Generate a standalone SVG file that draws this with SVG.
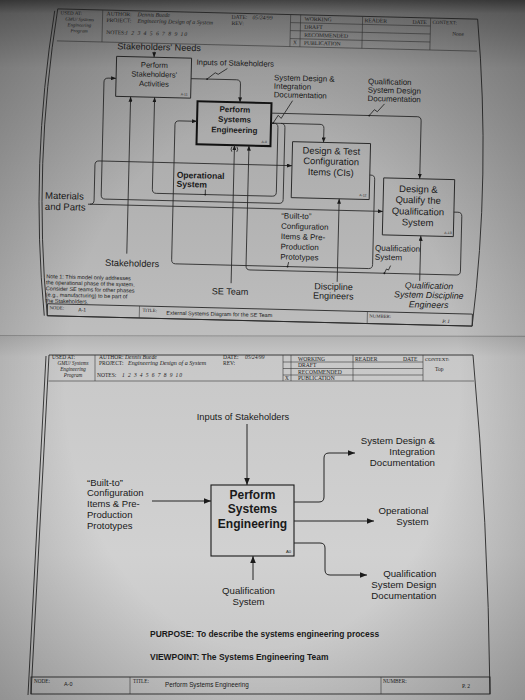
<svg xmlns="http://www.w3.org/2000/svg" width="525" height="700" viewBox="0 0 525 700">
<defs>
<linearGradient id="bg1" x1="0" y1="0" x2="0" y2="1">
<stop offset="0" stop-color="#4e4e4e"/>
<stop offset="0.04" stop-color="#7e7e7e"/>
<stop offset="0.2" stop-color="#a6a6a6"/>
<stop offset="1" stop-color="#bebebe"/>
</linearGradient>
<linearGradient id="bg2" x1="0" y1="0" x2="0" y2="1">
<stop offset="0" stop-color="#b2b2b2"/>
<stop offset="0.06" stop-color="#c8c8c8"/>
<stop offset="0.6" stop-color="#d1d1d1"/>
<stop offset="1" stop-color="#c4c4c4"/>
</linearGradient>
<radialGradient id="vig" cx="0.5" cy="0.55" r="0.75">
<stop offset="0.5" stop-color="#000" stop-opacity="0"/>
<stop offset="1" stop-color="#000" stop-opacity="0.32"/>
</radialGradient>
<marker id="a1" markerUnits="userSpaceOnUse" markerWidth="5" markerHeight="4" refX="5" refY="2" orient="auto"><path d="M0,0L5,2L0,4z" fill="#1a1a1a"/></marker>
<marker id="a2" markerUnits="userSpaceOnUse" markerWidth="7" markerHeight="6" refX="7" refY="2.8" orient="auto"><path d="M0,0L7,2.8L0,5.6z" fill="#1a1a1a"/></marker>
<style>
.s{font-family:"Liberation Sans",Arial,sans-serif;fill:#1a1a1a}
.f{font-family:"Liberation Serif","Times New Roman",serif;fill:#222}
.b{font-weight:bold}
.i{font-style:italic}
.m{text-anchor:middle}
.e{text-anchor:end}
.fr{fill:none;stroke:#2a2a2a;stroke-width:0.9}
.th{fill:none;stroke:#353535;stroke-width:0.6}
.box{fill:none;stroke:#252525;stroke-width:0.95}
.ln{fill:none;stroke:#252525;stroke-width:0.85}
.l1{fill:none;stroke:#252525;stroke-width:0.85;marker-end:url(#a1)}
.l2{fill:none;stroke:#252525;stroke-width:1;marker-end:url(#a2)}
.dot{fill:#1a1a1a}
</style>
</defs>

<rect x="0" y="0" width="525" height="340" fill="url(#bg1)"/>
<rect x="0" y="335" width="525" height="365" fill="url(#bg2)"/>
<path d="M0,335.5 L525,336.5" stroke="#949494" stroke-width="1"/>

<!-- ===================== PAGE 1 ===================== -->
<g id="page1" transform="rotate(1.4 265 165)">
<path class="fr" d="M54,14 H474 Q491,170 476,321 H51 Q33,170 54,14 Z"/>
<path class="fr" d="M51,16 Q30,170 48,321"/>

<g id="p1-header">
<path class="th" d="M54,46H474 M99,14V46 M287,14V46 M297,14V46 M359,14V46 M427,14V46 M287,22H427 M287,30H427 M287,38H427"/>
<text class="f" font-size="5" x="57" y="19.5">USED AT:</text>
<text class="f i m" font-size="4.8"><tspan x="76" y="25.5">GMU/ Systems</tspan><tspan x="76" y="31.2">Engineering</tspan><tspan x="76" y="37">Program</tspan></text>
<text class="f" font-size="5.6" x="103" y="19.5">AUTHOR:</text>
<text class="f i" font-size="5.8" x="134" y="19.5">Dennis Buede</text>
<text class="f" font-size="5.6" x="103" y="25.8">PROJECT:</text>
<text class="f i" font-size="5.9" x="134" y="25.8">Engineering Design of a System</text>
<text class="f" font-size="5.6" x="103" y="38">NOTES:</text>
<text class="f i" font-size="5.6" x="122" y="38" textLength="62" lengthAdjust="spacing">1 2 3 4 5 6 7 8 9 10</text>
<text class="f" font-size="5.6" x="228" y="19.5">DATE:</text>
<text class="f i" font-size="5.6" x="249" y="19.5">05/24/99</text>
<text class="f" font-size="5.6" x="228" y="25.8">REV:</text>
<text class="f" font-size="5.4" x="290" y="43.5">X</text>
<text class="f" font-size="5.6" x="301" y="19.8">WORKING</text>
<text class="f" font-size="5.6" x="301" y="27.8">DRAFT</text>
<text class="f" font-size="5.6" x="301" y="35.8">RECOMMENDED</text>
<text class="f" font-size="5.6" x="301" y="43.8">PUBLICATION</text>
<text class="f" font-size="5.6" x="361" y="19.8">READER</text>
<text class="f" font-size="5.6" x="409" y="20.3">DATE</text>
<text class="f" font-size="5" x="429" y="19.8">CONTEXT:</text>
<text class="f" font-size="5.4" x="449" y="31">None</text>
</g>

<g id="p1-footer">
<rect class="fr" x="51" y="309" width="425" height="12"/>
<path class="th" d="M143,309V321 M371,309V321"/>
<text class="f" font-size="4.8" x="53" y="314.5">NODE:</text>
<text class="s" font-size="5" x="82" y="316">A-1</text>
<text class="f" font-size="4.8" x="146" y="314.8">TITLE:</text>
<text class="s" font-size="5.5" x="170" y="317">External Systems Diagram for the SE Team</text>
<text class="f" font-size="4.8" x="373" y="315">NUMBER:</text>
<text class="f i" font-size="5.2" x="446" y="318.5">P. 1</text>
</g>

<g id="p1-a11">
<rect class="box" x="114" y="60" width="75" height="40"/>
<text class="s m" font-size="7.6"><tspan x="152" y="70.4">Perform</tspan><tspan x="152" y="79.7">Stakeholders'</tspan><tspan x="152" y="89.2">Activities</tspan></text>
<text class="s" font-size="3.4" x="179" y="97.5">A-11</text>
</g>

<g id="p1-a0">
<rect x="196" y="103" width="74" height="43" fill="none" stroke="#121212" stroke-width="2"/>
<text class="s b m" font-size="8"><tspan x="233.5" y="113">Perform</tspan><tspan x="233.5" y="123">Systems</tspan><tspan x="233.5" y="133.5">Engineering</tspan></text>
<text class="s" font-size="3.4" x="261" y="143">A-0</text>
</g>

<g id="p1-a12">
<rect class="box" x="292" y="141" width="78" height="56"/>
<text class="s m" font-size="9.4"><tspan x="331" y="152.6">Design &amp; Test</tspan><tspan x="331" y="163">Configuration</tspan><tspan x="331" y="174">Items (CIs)</tspan></text>
<text class="s" font-size="3.4" x="360" y="194">A-12</text>
</g>

<g id="p1-a13">
<rect class="box" x="384" y="175" width="71" height="57"/>
<text class="s m" font-size="9.5"><tspan x="419" y="188.6">Design &amp;</tspan><tspan x="419" y="199.6">Qualify the</tspan><tspan x="419" y="211">Qualification</tspan><tspan x="419" y="222">System</tspan></text>
<text class="s" font-size="3.4" x="446" y="229.5">A-13</text>
</g>

<g id="p1-connectors">
<path class="l1" d="M151.5,54.5V60"/>
<path class="l1" d="M189,80.5H234.5Q238.5,80.5 238.5,84.5V103"/>
<path class="l1" d="M270,113H416Q420,113 420,117V175"/>
<path class="l1" d="M270,123H319Q323,123 323,127V141"/>
<path class="l1" d="M273,123Q277,123 277,127V192Q277,196 273,196H157Q153,196 153,192V100"/>
<path class="l1" d="M280,123Q284,123 284,127V199Q284,203 280,203H106Q102,203 102,199V86Q102,82 106,82H114"/>
<path class="l1" d="M89,208.5H384"/>
<path class="l1" d="M91,208.5Q95,208.5 95,204.5V169Q95,165 99,165H292"/>
<path class="l1" d="M370,172.5H371Q375,172.5 375,176.5V262Q375,266 371,266H178Q174,266 174,262V127Q174,123 178,123H196"/>
<path class="l1" d="M455,207.5H459Q463,207.5 463,211.5V266.3Q463,270.3 459,270.3H252.5Q248.5,270.3 248.5,266.3V146"/>
<path class="l1" d="M129,257V100"/>
<path class="l1" d="M234,284V146"/>
<path class="ln" d="M231.5,147.5Q229.8,150 231.5,152.5 M236.5,147.5Q238.2,150 236.5,152.5"/>
<path class="l1" d="M340,280V197"/>
<path class="l1" d="M422.5,277V232"/>
<path class="ln" d="M205,80.5L213,74L216,75.5L225,69.5"/>
<path class="ln" d="M272,123L277,115L280,118L291,100"/>
<path class="ln" d="M368,113L373,107L376,109L383,101"/>
<path class="ln" d="M206,196V191"/>
<path class="ln" d="M290,266L291,261.5"/>
<path class="ln" d="M387,270.3L389,266L391,267L393,262.5"/>
<circle class="dot" cx="205" cy="80.5" r="0.9"/>
<circle class="dot" cx="272" cy="123" r="0.9"/>
<circle class="dot" cx="368" cy="113" r="0.9"/>
<circle class="dot" cx="206" cy="196" r="0.9"/>
<circle class="dot" cx="290" cy="266" r="0.9"/>
<circle class="dot" cx="387" cy="270.3" r="0.9"/>
</g>

<g id="p1-labels">
<text class="s" font-size="9.1" x="114.5" y="52.8">Stakeholders' Needs</text>
<text class="s" font-size="7.8" x="194" y="66.5">Inputs of Stakeholders</text>
<text class="s" font-size="7.9"><tspan x="272" y="80">System Design &amp;</tspan><tspan x="272" y="88.5">Integration</tspan><tspan x="272" y="97">Documentation</tspan></text>
<text class="s" font-size="7.9"><tspan x="366" y="81.5">Qualification</tspan><tspan x="366" y="90">System Design</tspan><tspan x="366" y="98.5">Documentation</tspan></text>
<text class="s b" font-size="8.6"><tspan x="177" y="180">Operational</tspan><tspan x="177" y="189">System</tspan></text>
<text class="s" font-size="9.5"><tspan x="46" y="204">Materials</tspan><tspan x="46" y="215">and Parts</tspan></text>
<text class="s" font-size="8"><tspan x="282.5" y="218">“Built-to”</tspan><tspan x="282.5" y="228.3">Configuration</tspan><tspan x="282.5" y="238.6">Items &amp; Pre-</tspan><tspan x="282.5" y="248.8">Production</tspan><tspan x="282.5" y="259">Prototypes</tspan></text>
<text class="s" font-size="8.2"><tspan x="377" y="248">Qualification</tspan><tspan x="377" y="257">System</tspan></text>
<text class="s" font-size="9.3" x="107.5" y="269.7">Stakeholders</text>
<text class="s" font-size="9" x="215" y="295.4">SE Team</text>
<text class="s m" font-size="9"><tspan x="336.5" y="288">Discipline</tspan><tspan x="336.5" y="297.3">Engineers</tspan></text>
<text class="s i m" font-size="8.8"><tspan x="432" y="284.7">Qualification</tspan><tspan x="432" y="294">System Discipline</tspan><tspan x="432" y="303.7">Engineers</tspan></text>
<text class="s" font-size="5.5"><tspan x="49" y="283.5">Note 1: This model only addresses</tspan><tspan x="49" y="289.6">the operational phase of the system.</tspan><tspan x="49" y="295.7">Consider SE teams for other phases</tspan><tspan x="49" y="301.8">(e.g., manufacturing) to be part of</tspan><tspan x="49" y="307.9">the Stakeholders.</tspan></text>
</g>
</g>

<!-- ===================== PAGE 2 ===================== -->
<g id="page2">
<path class="fr" d="M49,355 L31,694 M46,356 L28,695"/>
<path class="fr" d="M473,355 Q488,520 490,694"/>
<path class="fr" d="M49,355 H473"/>

<g id="p2-header">
<path class="th" d="M48.5,381H474 M95,355V381 M283,355V381 M291,355V381 M353,355V381 M423,355V381 M283,362H423 M283,368.5H423 M283,375H423"/>
<text class="f" font-size="5.4" x="52" y="358.8">USED AT:</text>
<text class="f i m" font-size="5.2"><tspan x="73" y="364.8">GMU/ Systems</tspan><tspan x="73" y="370.8">Engineering</tspan><tspan x="73" y="376.8">Program</tspan></text>
<text class="f" font-size="5.5" x="99" y="358.8">AUTHOR:</text>
<text class="f i" font-size="5.7" x="125" y="358.8">Dennis Buede</text>
<text class="f" font-size="5.5" x="99" y="365">PROJECT:</text>
<text class="f i" font-size="6.1" x="128" y="365">Engineering Design of a System</text>
<text class="f" font-size="5.5" x="97" y="377">NOTES:</text>
<text class="f i" font-size="5.5" x="122" y="377" textLength="60" lengthAdjust="spacing">1 2 3 4 5 6 7 8 9 10</text>
<text class="f" font-size="5.5" x="223" y="358.8">DATE:</text>
<text class="f i" font-size="5.5" x="245" y="358.8">05/24/99</text>
<text class="f" font-size="5.5" x="223" y="365">REV:</text>
<text class="f" font-size="5.2" x="285" y="380">X</text>
<text class="f" font-size="5.6" x="298" y="360.5">WORKING</text>
<text class="f" font-size="5.6" x="298" y="367">DRAFT</text>
<text class="f" font-size="5.6" x="298" y="373.5">RECOMMENDED</text>
<text class="f" font-size="5.6" x="298" y="380">PUBLICATION</text>
<text class="f" font-size="5.6" x="355" y="360.5">READER</text>
<text class="f" font-size="5.6" x="403" y="361">DATE</text>
<text class="f" font-size="5" x="425" y="360.5">CONTEXT:</text>
<text class="f" font-size="5.6" x="435" y="371">Top</text>
</g>

<g id="p2-a0">
<rect x="211" y="485" width="83" height="71" fill="none" stroke="#1a1a1a" stroke-width="1.1"/>
<text class="s b m" font-size="12"><tspan x="252.5" y="498.5">Perform</tspan><tspan x="252.5" y="513">Systems</tspan><tspan x="252.5" y="527.5">Engineering</tspan></text>
<text class="s" font-size="4.2" x="286" y="553">A0</text>
</g>

<g id="p2-connectors">
<path class="l2" d="M247,424V485"/>
<path class="l2" d="M152,501H211"/>
<path class="l2" d="M253,580V556"/>
<path class="l2" d="M294,502H319Q324,502 324,497V458Q324,453 329,453H355"/>
<path class="l2" d="M294,521H374"/>
<path class="l2" d="M294,543H320Q325,543 325,548V570Q325,575 330,575H367"/>
</g>

<g id="p2-labels">
<text class="s m" font-size="9.3" x="243" y="419.5">Inputs of Stakeholders</text>
<text class="s" font-size="9.5"><tspan x="87" y="485.8">“Built-to”</tspan><tspan x="87" y="496.3">Configuration</tspan><tspan x="87" y="506.8">Items &amp; Pre-</tspan><tspan x="87" y="517.5">Production</tspan><tspan x="87" y="528.5">Prototypes</tspan></text>
<text class="s m" font-size="9.6"><tspan x="248.5" y="593.5">Qualification</tspan><tspan x="248.5" y="604.5">System</tspan></text>
<text class="s e" font-size="9.7"><tspan x="435" y="443.5">System Design &amp;</tspan><tspan x="435" y="454.8">Integration</tspan><tspan x="435" y="465.8">Documentation</tspan></text>
<text class="s e" font-size="9.7"><tspan x="428.5" y="514.2">Operational</tspan><tspan x="428.5" y="525.2">System</tspan></text>
<text class="s e" font-size="9.7"><tspan x="436.5" y="576.8">Qualification</tspan><tspan x="436.5" y="587.8">System Design</tspan><tspan x="436.5" y="599.2">Documentation</tspan></text>
<text class="s b" font-size="8.45" x="150" y="637">PURPOSE: To describe the systems engineering process</text>
<text class="s b" font-size="8.45" x="150" y="660">VIEWPOINT: The Systems Engineering Team</text>
</g>

<g id="p2-footer">
<rect class="fr" x="31" y="677" width="459" height="17"/>
<path class="th" d="M130,677V694 M381,677V694"/>
<text class="f" font-size="5.2" x="34" y="683">NODE:</text>
<text class="s" font-size="5.4" x="64" y="686">A-0</text>
<text class="f" font-size="5.2" x="133" y="683">TITLE:</text>
<text class="s" font-size="6.3" x="165" y="686.5">Perform Systems Engineering</text>
<text class="f" font-size="5.2" x="383" y="683">NUMBER:</text>
<text class="f" font-size="5.6" x="462" y="687.5">P. 2</text>
</g>
</g>

<rect x="0" y="0" width="525" height="700" fill="url(#vig)"/>
</svg>
